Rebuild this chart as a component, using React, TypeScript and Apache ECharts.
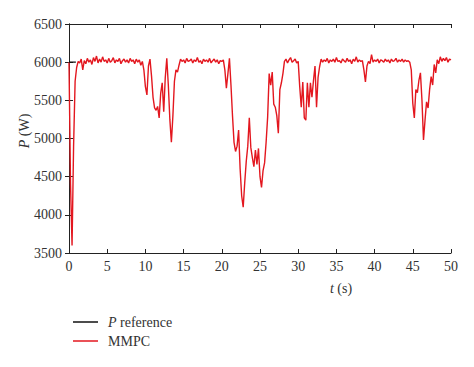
import React, { useEffect, useRef } from "react";
import * as echarts from "echarts";

const timeStep = 0.2; // s between samples
const mmpcPower = [
  6000, 4400, 3600, 4900, 5750, 5930, 6010, 5990, 6040, 5900,
  6020, 5980, 6050, 6000, 6030, 5970, 6060, 6010, 6080, 5990,
  6040, 6000, 6070, 6010, 6030, 5990, 6050, 6000, 6020, 6060,
  5990, 6030, 6010, 6050, 5980, 6020, 6040, 6000, 6030, 5990,
  6050, 6010, 6030, 5980, 6040, 6000, 6030, 5960, 6010, 5900,
  5680, 5570, 5950, 6040, 5820, 5540, 5400, 5370, 5420, 5270,
  5590, 5730, 5350, 5800, 6050, 5700, 5250, 4950, 5300, 5750,
  5900, 5870, 5960, 6040, 6010, 6030, 5990, 6050, 6010, 6020,
  6040, 5990, 6030, 6010, 6060, 6000, 6020, 5980, 6040, 6010,
  6030, 6000, 6050, 5990, 6020, 6040, 6000, 6030, 5980, 6020,
  6010, 6030, 5900, 5660, 5850, 6050, 5700, 5300, 4950, 4830,
  4900, 5110, 4600, 4250, 4100, 4420, 4700, 4900, 5270, 4880,
  4750, 4630, 4850, 4660, 4870, 4500, 4360, 4580, 4680, 4950,
  5280, 5850, 5700, 5870, 5450, 5410, 5300, 5070, 5640, 5730,
  5850, 6010, 6040, 5990, 6030, 6060, 6000, 6020, 6040, 5990,
  6010, 5680, 5410, 5740, 5270, 5240, 5730, 5410, 5730, 5540,
  5760, 5950, 5410, 5800, 5940, 6040, 6000, 6030, 6010, 6050,
  5990, 6030, 6010, 6040, 6000, 6060, 6010, 6020, 5990, 6040,
  6020, 6000, 6050, 6010, 6030, 5980, 6040, 6010, 6070, 6000,
  6030, 6010, 6020, 5900, 5740, 5950, 6010, 5980, 6100, 6000,
  6030, 6010, 6040, 5990, 6030, 6020, 6000, 6040, 6010, 6030,
  5990, 6040, 6010, 6020, 6050, 6000, 6030, 6010, 6040, 6000,
  6030, 6010, 6020, 6000, 5900, 5460, 5270, 5640, 5600, 5760,
  5860, 5500, 4980, 5240, 5480, 5400, 5640, 5810, 5700, 5970,
  5860, 6030, 5980, 6070, 6010, 6050, 6020, 6060, 6000, 6040,
  6030,
];
// Visible part of the black reference (elsewhere it lies under the MMPC trace)
const referenceTimes = [0, 0.9];
const referencePower = [6000, 6000];
const xTicks = [0, 5, 10, 15, 20, 25, 30, 35, 40, 45, 50];
const yTicks = [3500, 4000, 4500, 5000, 5500, 6000, 6500];

const FONT = "'Liberation Serif', 'DejaVu Serif', serif";
const TXT = "#333";
const RED = "#e3171f";
const LINE_ICON = "path://M0,0H50V3H0Z";

export default function App() {
  const ref = useRef<HTMLDivElement>(null);
  useEffect(() => {
    if (!ref.current) return;
    const chart = echarts.init(ref.current, null, { renderer: "svg" });
    const mmpcData = mmpcPower.map((p, i) => [Number((i * timeStep).toFixed(2)), p]);
    const refData = referenceTimes.map((t, i) => [t, referencePower[i]]);
    const axisBase = {
      type: "value" as const,
      axisLine: { show: true, lineStyle: { color: "#222", width: 1 } },
      axisTick: { show: true, inside: true, length: 4, lineStyle: { color: "#222" } },
      splitLine: { show: false },
    };
    const plain = (v: number) => String(v);
    chart.setOption({
      animation: false,
      backgroundColor: "#fff",
      textStyle: { fontFamily: FONT },
      grid: { left: 69, right: 23, top: 24, bottom: 114 },
      xAxis: [
        {
          ...axisBase,
          min: xTicks[0],
          max: xTicks[xTicks.length - 1],
          interval: 5,
          axisLabel: { color: TXT, fontSize: 14, fontFamily: FONT, margin: 6, formatter: plain },
        },
        {
          ...axisBase,
          position: "top",
          min: xTicks[0],
          max: xTicks[xTicks.length - 1],
          interval: 5,
          axisLabel: { show: false },
        },
      ],
      yAxis: [
        {
          ...axisBase,
          min: yTicks[0],
          max: yTicks[yTicks.length - 1],
          interval: 500,
          axisLabel: { color: TXT, fontSize: 14, fontFamily: FONT, margin: 7, formatter: plain },
        },
        {
          ...axisBase,
          position: "right",
          min: yTicks[0],
          max: yTicks[yTicks.length - 1],
          interval: 500,
          axisLabel: { show: false },
        },
      ],
      legend: {
        orient: "vertical",
        left: 68,
        top: 310,
        itemWidth: 25,
        itemHeight: 14,
        itemGap: 5,
        icon: LINE_ICON,
        data: [
          { name: "P reference", icon: LINE_ICON, itemStyle: { color: "#111" } },
          { name: "MMPC", icon: LINE_ICON, itemStyle: { color: RED } },
        ],
        formatter: (name: string) => (name === "P reference" ? "{i|P} reference" : name),
        textStyle: {
          color: TXT,
          fontSize: 14,
          fontFamily: FONT,
          padding: [0, 0, 0, 5],
          rich: { i: { fontStyle: "italic", fontSize: 14, fontFamily: FONT, color: TXT } },
        },
      },
      graphic: [
        {
          type: "text",
          x: 24,
          y: 131,
          rotation: Math.PI / 2,
          style: {
            text: "{i|P} (W)",
            fill: TXT,
            font: `14px ${FONT}`,
            align: "center",
            verticalAlign: "middle",
            rich: { i: { fontStyle: "italic", fontSize: 14, fontFamily: FONT, fill: TXT } },
          },
        },
        {
          type: "text",
          x: 341,
          y: 288,
          style: {
            text: "{i|t} (s)",
            fill: TXT,
            font: `14px ${FONT}`,
            align: "center",
            verticalAlign: "middle",
            rich: { i: { fontStyle: "italic", fontSize: 14, fontFamily: FONT, fill: TXT } },
          },
        },
      ],
      series: [
        {
          name: "MMPC",
          type: "line",
          data: mmpcData,
          showSymbol: false,
          symbol: "none",
          z: 3,
          lineStyle: { color: RED, width: 1.4 },
          itemStyle: { color: RED },
        },
        {
          name: "P reference",
          type: "line",
          data: refData,
          showSymbol: false,
          symbol: "none",
          z: 6,
          lineStyle: { color: "#111", width: 1.3 },
          itemStyle: { color: "#111" },
        },
      ],
    });
    return () => chart.dispose();
  }, []);
  return <div ref={ref} style={{ width: 474, height: 367, margin: -8 }} />;
}
